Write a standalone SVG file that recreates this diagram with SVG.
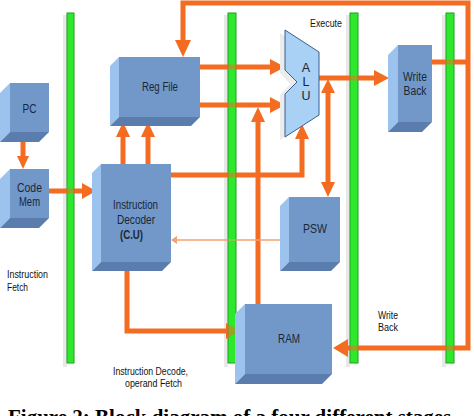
<svg xmlns="http://www.w3.org/2000/svg" xmlns:xlink="http://www.w3.org/1999/xlink" width="474" height="416" viewBox="0 0 474 416">
<style>
.front{fill:#7198c8}
.side{fill:#9cc2ee}
.bottom{fill:#5a7dae}
.lbl{font-family:"Liberation Sans",Arial,sans-serif;font-size:12.5px;fill:#1b2636;text-anchor:middle}
.sm{font-family:"Liberation Sans",Arial,sans-serif;font-size:10px;fill:#111}
.bar{fill:#2ee82e;stroke:#1c9a1c;stroke-width:0.8}
.shadow{fill:#e8e8e8}
.conn{fill:none;stroke:#f36c21;stroke-width:5}
.head{fill:#f36c21}
</style>
<rect width="474" height="416" fill="#ffffff"/>
<defs>
<g id="barset">
<rect class="bar" x="67" y="13" width="7" height="350"/>
<rect class="bar" x="228" y="13" width="8" height="350"/>
<rect class="bar" x="350" y="13" width="8" height="350"/>
<rect class="bar" x="446" y="13" width="8" height="350"/>
</g>
</defs>
<g id="bar-shadows">
<rect class="shadow" x="63" y="15" width="4" height="352"/>
<rect class="shadow" x="224" y="15" width="4" height="352"/>
<rect class="shadow" x="346" y="15" width="4" height="352"/>
<rect class="shadow" x="442" y="15" width="4" height="352"/>
</g>
<g id="bars"><use xlink:href="#barset"/></g>

<g id="connectors">
<path class="conn" d="M183,41 V3 H468 V348 H347"/>
<path class="conn" d="M432,62 H468"/>
<polygon class="head" points="175,40 191,40 183,57"/>
<polygon class="head" points="348,339 348,357 333,348"/>
<path class="conn" d="M200,67 H271"/>
<polygon class="head" points="270,59 270,75 285,67"/>
<path class="conn" d="M200,105 H271"/>
<polygon class="head" points="270,97 270,113 285,105"/>
<path class="conn" d="M171,175 H302 V138"/>
<polygon class="head" points="295,139 309,139 302,124"/>
<path class="conn" d="M258,304 V120"/>
<polygon class="head" points="251,122 265,122 258,107"/>
<path class="conn" d="M319,78 H375"/>
<polygon class="head" points="374,70 374,86 389,78"/>
<path class="conn" d="M328,92 V183"/>
<polygon class="head" points="321,93 335,93 328,79"/>
<polygon class="head" points="321,182 335,182 328,197"/>
<path class="conn" d="M49,191 H82"/>
<polygon class="head" points="82,183 82,199 96,191"/>
<path class="conn" d="M23,142 V157"/>
<polygon class="head" points="17,156 29,156 23,169"/>
<path class="conn" d="M123,164 V136"/>
<polygon class="head" points="116,137 130,137 123,122"/>
<path class="conn" d="M148,164 V136"/>
<polygon class="head" points="141,137 155,137 148,122"/>
<path class="conn" d="M127,271 V331 H226"/>
<polygon class="head" points="226,323 226,339 240,331"/>
<path fill="none" stroke="#f4a173" stroke-width="1.5" d="M280,240 H176"/>
<polygon fill="#f4a173" points="177,236 177,244 171,240"/>
</g>
<g id="bar-overlay" opacity="0.45"><use xlink:href="#barset"/></g>

<g id="pc">
<polygon class="side" points="10,83 0,93 0,142 10,132"/>
<polygon class="bottom" points="10,132 0,142 39,142 49,132"/>
<rect class="front" x="10" y="83" width="39" height="49"/>
<text class="lbl" x="29.5" y="113" textLength="14" lengthAdjust="spacingAndGlyphs">PC</text>
</g>
<g id="codemem">
<polygon class="side" points="10,169 0,179 0,228 10,218"/>
<polygon class="bottom" points="10,218 0,228 39,228 49,218"/>
<rect class="front" x="10" y="169" width="39" height="49"/>
<text class="lbl" x="29.5" y="192" textLength="25" lengthAdjust="spacingAndGlyphs">Code</text>
<text class="lbl" x="29.5" y="206" textLength="21" lengthAdjust="spacingAndGlyphs">Mem</text>
</g>
<g id="decoder">
<polygon class="side" points="101,164 92,173 92,271 101,262"/>
<polygon class="bottom" points="101,262 92,271 162,271 171,262"/>
<rect class="front" x="101" y="164" width="70" height="98"/>
<text class="lbl" x="135.5" y="209" textLength="45" lengthAdjust="spacingAndGlyphs">Instruction</text>
<text class="lbl" x="136" y="224" textLength="38" lengthAdjust="spacingAndGlyphs">Decoder</text>
<text class="lbl" x="131.5" y="239" font-weight="bold" textLength="23" lengthAdjust="spacingAndGlyphs">(C.U)</text>
</g>
<g id="regfile">
<polygon class="side" points="119,57 110,66 110,126 119,117"/>
<polygon class="bottom" points="119,117 110,126 191,126 200,117"/>
<rect class="front" x="119" y="57" width="81" height="60"/>
<text class="lbl" x="160" y="91" textLength="36" lengthAdjust="spacingAndGlyphs">Reg File</text>
</g>
<g id="alu">
<polygon fill="#ececec" points="280,33 314,55 314,118 280,140 280,95 290,84 280,73"/>
<polygon fill="#a9d0f5" stroke="#3b5f8e" stroke-width="1" points="285,30 319,52 319,115 285,137 285,94 297,82 285,70"/>
<text class="lbl" x="306" y="72">A</text>
<text class="lbl" x="306" y="86">L</text>
<text class="lbl" x="306" y="100">U</text>
</g>
<g id="writeback">
<polygon class="side" points="398,45 388,55 388,132 398,122"/>
<polygon class="bottom" points="398,122 388,132 422,132 432,122"/>
<rect class="front" x="398" y="45" width="34" height="77"/>
<text class="lbl" x="415" y="81" textLength="24" lengthAdjust="spacingAndGlyphs">Write</text>
<text class="lbl" x="415" y="95" textLength="23" lengthAdjust="spacingAndGlyphs">Back</text>
</g>
<g id="psw">
<polygon class="side" points="289,197 280,206 280,271 289,262"/>
<polygon class="bottom" points="289,262 280,271 331,271 340,262"/>
<rect class="front" x="289" y="197" width="51" height="65"/>
<text class="lbl" x="315" y="233" textLength="24" lengthAdjust="spacingAndGlyphs">PSW</text>
</g>
<g id="ram">
<polygon class="side" points="245,304 235,314 235,384 245,374"/>
<polygon class="bottom" points="245,374 235,384 322,384 332,374"/>
<rect class="front" x="245" y="304" width="87" height="70"/>
<text class="lbl" x="289" y="343" textLength="22" lengthAdjust="spacingAndGlyphs">RAM</text>
</g>

<g id="labels">
<text class="sm" x="310" y="27" textLength="32" lengthAdjust="spacingAndGlyphs">Execute</text>
<text class="sm" x="7" y="278" textLength="41" lengthAdjust="spacingAndGlyphs">Instruction</text>
<text class="sm" x="7" y="291" textLength="21" lengthAdjust="spacingAndGlyphs">Fetch</text>
<text class="sm" x="113" y="375" textLength="75" lengthAdjust="spacingAndGlyphs">Instruction Decode,</text>
<text class="sm" x="125" y="387" textLength="57" lengthAdjust="spacingAndGlyphs">operand Fetch</text>
<text class="sm" x="378" y="319" textLength="20" lengthAdjust="spacingAndGlyphs">Write</text>
<text class="sm" x="378" y="331" textLength="20" lengthAdjust="spacingAndGlyphs">Back</text>
<text x="8" y="424" font-family="'Liberation Serif','Times New Roman',serif" font-weight="bold" font-size="21" fill="#000">Figure 2: Block diagram of a four different stages</text>
</g>
</svg>
